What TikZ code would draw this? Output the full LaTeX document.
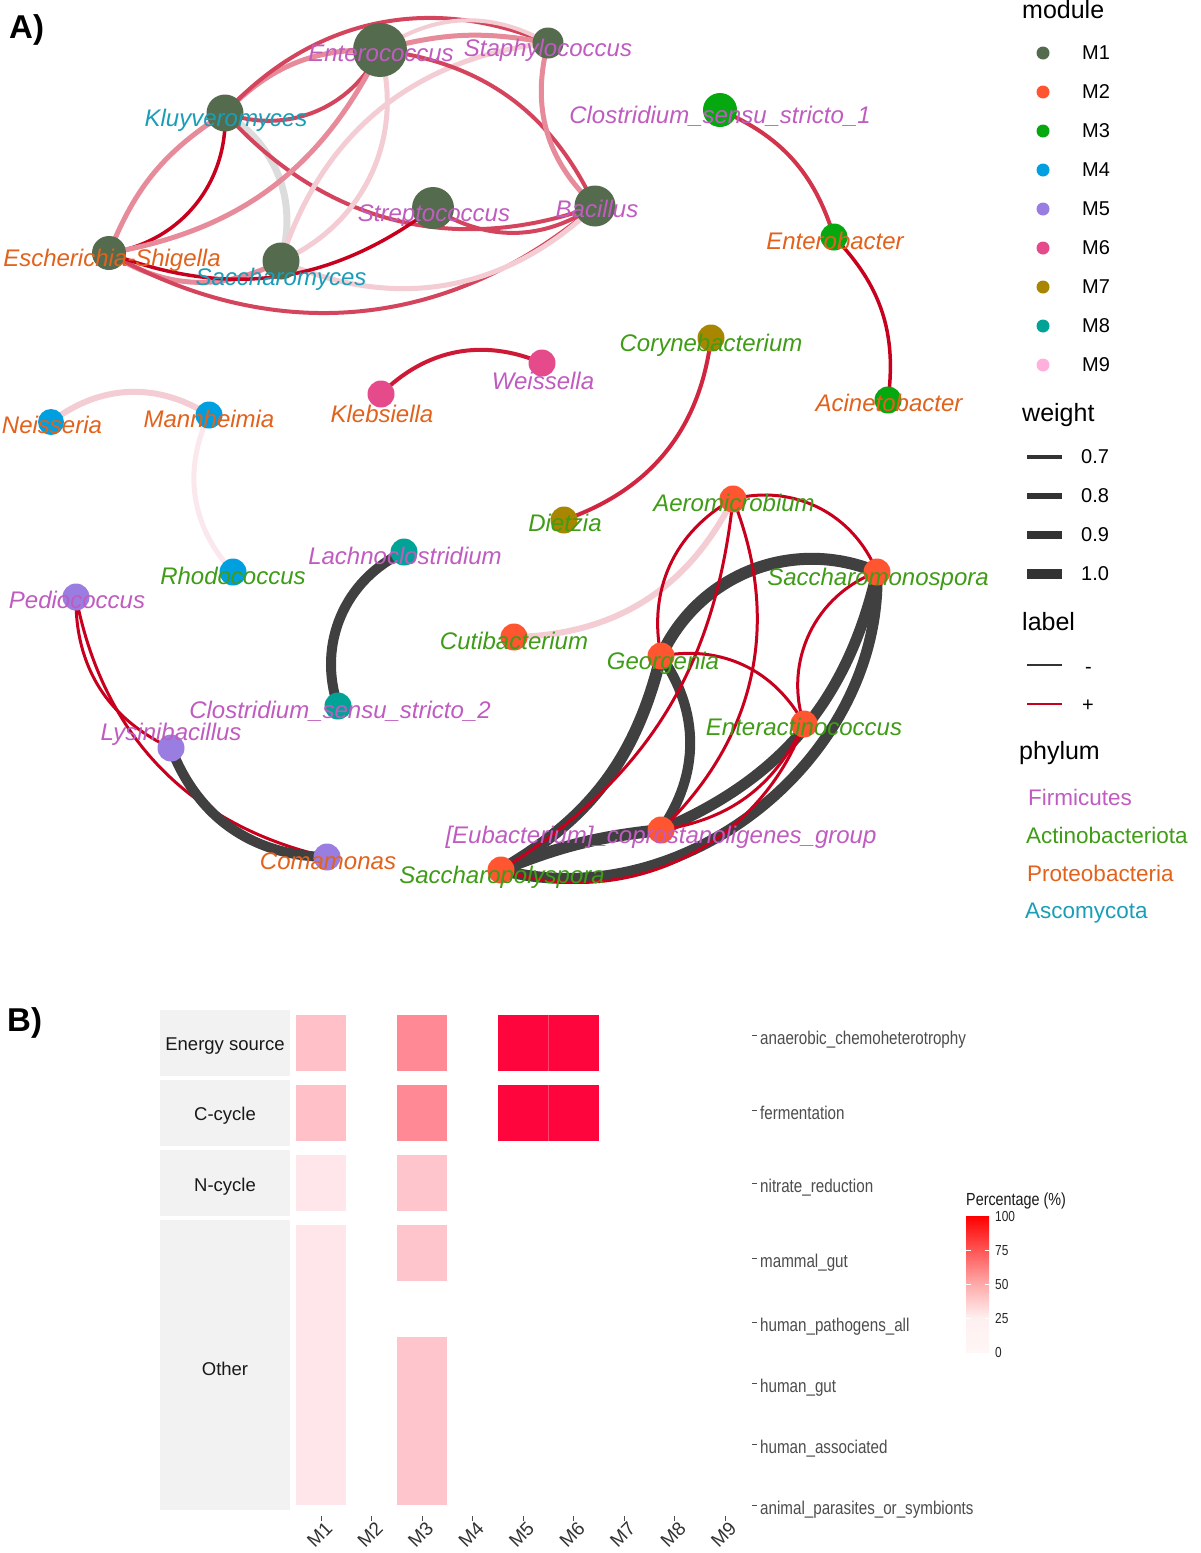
\documentclass[tikz,border=0pt]{standalone}
\usepackage{fontspec}
\setmainfont{Liberation Sans}
\newfontfamily\narrowfont[FakeStretch=0.82]{Liberation Sans}
\pgfdeclarelayer{bglayer}
\pgfdeclarelayer{edges}
\pgfsetlayers{bglayer,edges,main}
\definecolor{Mone}{HTML}{556B4E}
\definecolor{Mtwo}{HTML}{FF5530}
\definecolor{Mthree}{HTML}{06A810}
\definecolor{Mfour}{HTML}{00A0E0}
\definecolor{Mfive}{HTML}{9A7DE0}
\definecolor{Msix}{HTML}{E54A8A}
\definecolor{Mseven}{HTML}{A88600}
\definecolor{Meight}{HTML}{00A395}
\definecolor{Mnine}{HTML}{FFB0DC}
\definecolor{Firm}{HTML}{C05CC0}
\definecolor{Acti}{HTML}{3F9C16}
\definecolor{Prot}{HTML}{E2621C}
\definecolor{Asco}{HTML}{1A9EB8}
\definecolor{RedD}{HTML}{C8001E}
\definecolor{RedM}{HTML}{D4445C}
\definecolor{RedP}{HTML}{E78A99}
\definecolor{RedL}{HTML}{F4CCD3}
\definecolor{RedV}{HTML}{FAE8EC}
\definecolor{GrD}{HTML}{404040}
\definecolor{GrL}{HTML}{DCDCDC}
\definecolor{StripC}{HTML}{F2F2F2}
\definecolor{AxT}{HTML}{4D4D4D}
\definecolor{HmA}{HTML}{FFC0C8}
\definecolor{HmB}{HTML}{FF8A95}
\definecolor{HmC}{HTML}{FF053D}
\definecolor{HmD}{HTML}{FFE6EA}
\definecolor{HmE}{HTML}{FFC5CC}
\definecolor{CbA}{HTML}{FFF6F6}
\definecolor{CbB}{HTML}{FFF0F0}
\definecolor{CbC}{HTML}{FFAAAA}
\definecolor{CbD}{HTML}{FF5555}
\definecolor{CbE}{HTML}{FF0000}
\pgfdeclareverticalshading{pctshade}{100bp}{color(0bp)=(CbA); color(25bp)=(CbA); color(37.5bp)=(CbB); color(50bp)=(CbC); color(62.5bp)=(CbD); color(75bp)=(CbE); color(100bp)=(CbE)}
\tikzset{
  vtx/.style={circle, inner sep=0pt, outer sep=0pt, draw=none},
  lab/.style={anchor=mid, inner sep=0pt, yshift=-5.5, font=\fontsize{24}{28}\selectfont\itshape},
  edred/.style={draw=RedD, line width=3.5},
  ered/.style={draw=RedD, line width=3},
  emed/.style={draw=RedM, line width=4},
  epink/.style={draw=RedP, line width=5},
  elight/.style={draw=RedL, line width=5},
  evlight/.style={draw=RedV, line width=5},
  egray/.style={draw=GrL, line width=7},
  eneg/.style={draw=GrD, line width=11},
  legt/.style={anchor=base west, inner sep=0pt, font=\fontsize{25}{30}\selectfont},
  legl/.style={anchor=mid west, inner sep=0pt, yshift=-4, font=\fontsize{20}{24}\selectfont},
  phyl/.style={anchor=mid west, inner sep=0pt, yshift=-4, font=\fontsize{22.5}{26}\selectfont},
  ylab/.style={anchor=mid west, inner sep=0pt, yshift=-4, text=AxT, font=\narrowfont\fontsize{18.5}{21}\selectfont},
  xlab/.style={anchor=east, rotate=45, inner sep=0pt, text=black!80, font=\fontsize{19}{21}\selectfont},
  striplab/.style={anchor=mid, inner sep=0pt, yshift=-4, text=black!90, font=\fontsize{18.5}{22}\selectfont},
  cblab/.style={anchor=mid west, inner sep=0pt, yshift=-3, text=black!85, font=\narrowfont\fontsize{14.5}{16}\selectfont},
}
\begin{document}
\begin{tikzpicture}[x=1pt,y=1pt]
\useasboundingbox (0,0) rectangle (1200,-1553);
\begin{pgfonlayer}{bglayer}
\fill[white] (0,0) rectangle (1200,-1553);
\end{pgfonlayer}

% ---------- panel letters ----------
\node[anchor=mid west, inner sep=0pt, yshift=-6, font=\fontsize{33}{36}\selectfont\bfseries] (pA) at (9,-30) {A)};
\node[anchor=mid west, inner sep=0pt, yshift=-6, font=\fontsize{33}{36}\selectfont\bfseries] (pB) at (7,-1023) {B)};

% ---------- vertices ----------
\node[vtx, fill=Mone, minimum size=54] (En) at (380,-50) {};
\node[vtx, fill=Mone, minimum size=31] (St) at (548,-43) {};
\node[vtx, fill=Mone, minimum size=37] (Kl) at (225,-113) {};
\node[vtx, fill=Mone, minimum size=42] (Sr) at (433,-208) {};
\node[vtx, fill=Mone, minimum size=41] (Ba) at (595,-206) {};
\node[vtx, fill=Mone, minimum size=34] (Es) at (109,-253) {};
\node[vtx, fill=Mone, minimum size=37] (Sa) at (281,-261) {};
\node[vtx, fill=Mthree, minimum size=34] (C1) at (720,-110) {};
\node[vtx, fill=Mthree, minimum size=27] (Eb) at (834,-237) {};
\node[vtx, fill=Mthree, minimum size=27] (Ac) at (888,-400) {};
\node[vtx, fill=Mseven, minimum size=27] (Co) at (711,-338) {};
\node[vtx, fill=Mseven, minimum size=27] (Di) at (564,-520) {};
\node[vtx, fill=Msix, minimum size=27] (Kb) at (381,-394) {};
\node[vtx, fill=Msix, minimum size=27] (We) at (542,-363) {};
\node[vtx, fill=Mfour, minimum size=26] (Ne) at (51,-422) {};
\node[vtx, fill=Mfour, minimum size=27] (Ma) at (209,-415) {};
\node[vtx, fill=Mfour, minimum size=27] (Rh) at (233,-572) {};
\node[vtx, fill=Meight, minimum size=27] (La) at (404,-552) {};
\node[vtx, fill=Meight, minimum size=27] (C2) at (338,-706) {};
\node[vtx, fill=Mfive, minimum size=27] (Pe) at (76,-597) {};
\node[vtx, fill=Mfive, minimum size=27] (Ly) at (171,-748) {};
\node[vtx, fill=Mfive, minimum size=27] (Cm) at (327,-857) {};
\node[vtx, fill=Mtwo, minimum size=27] (Ae) at (733,-499) {};
\node[vtx, fill=Mtwo, minimum size=27] (Sm) at (877,-572) {};
\node[vtx, fill=Mtwo, minimum size=27] (Cu) at (514,-637) {};
\node[vtx, fill=Mtwo, minimum size=27] (Ge) at (661,-656) {};
\node[vtx, fill=Mtwo, minimum size=27] (Ea) at (804,-724) {};
\node[vtx, fill=Mtwo, minimum size=27] (Eu) at (661,-830) {};
\node[vtx, fill=Mtwo, minimum size=27] (Sp) at (501,-870) {};

% ---------- edges ----------
\begin{pgfonlayer}{edges}
% module 1
\draw[epink] (Es.center) to[bend left=18] (Kl.center);
\draw[edred] (Es.center) to[bend right=42] (Kl.center);
\draw[epink] (Kl.center) to[bend left=24] (En.center);
\draw[emed] (Kl.center) to[bend right=42] (En.center);
\draw[emed] (Kl.center) to[bend left=35] (St.center);
\draw[egray] (Kl.center) to[bend left=37] (Sa.center);
\draw[emed] (Kl.center) to[bend right=34] (Ba.center);
\draw[epink] (Es.center) to[bend right=27] (En.center);
\draw[epink] (Es.center) to[bend right=30] (Sa.center);
\draw[emed] (Es.center) to[bend right=35] (Ba.center);
\draw[elight] (Sa.center) to[bend right=41] (En.center);
\draw[elight] (Sa.center) to[bend left=33] (St.center);
\draw[elight] (Sa.center) to[bend right=34] (Ba.center);
\draw[edred] (Es.center) to[bend right=29] (Sr.center);
\draw[emed] (Sr.center) to[bend right=33] (Ba.center);
\draw[emed] (En.center) to[bend left=29] (Ba.center);
\draw[epink] (St.center) to[bend right=31] (Ba.center);
\draw[epink] (En.center) to[bend left=13] (St.center);
\draw[elight, line width=4] (En.center) to[bend left=32] (St.center);
% small modules
\draw[emed, draw=RedD!80!white] (C1.center) to[bend left=25] (Eb.center);
\draw[edred] (Eb.center) to[bend left=26] (Ac.center);
\draw[emed, draw=RedD!85!white] (Co.center) to[bend left=32] (Di.center);
\draw[emed, draw=RedD!90!white] (Kb.center) to[bend left=34] (We.center);
\draw[elight, line width=6] (Ne.center) to[bend left=35] (Ma.center);
\draw[evlight] (Ma.center) to[bend right=34] (Rh.center);
\draw[eneg, line width=10] (La.center) to[bend right=42] (C2.center);
\draw[ered] (Pe.center) to[bend right=33] (Ly.center);
\draw[ered] (Pe.center) to[bend right=33] (Cm.center);
\draw[eneg, line width=10] (Ly.center) to[bend right=34] (Cm.center);
\draw[elight, line width=6] (Cu.center) to[bend right=31] (Ae.center);
% module 2 negative
\draw[eneg, line width=12] (Ge.center) to[bend left=44] (Sm.center);
\draw[eneg, line width=12] (Sp.center) to[bend right=23] (Ge.center);
\draw[eneg, line width=10] (Ge.center) to[bend left=35] (Eu.center);
\draw[eneg, line width=12] (Sp.center) to[bend left=8] (Eu.center);
\draw[eneg, line width=11] (Eu.center) to[bend right=27] (Sm.center);
\draw[eneg, line width=11] (Sp.center) to[bend right=53] (Sm.center);
% module 2 positive
\draw[ered] (Ae.center) to[bend left=41] (Sm.center);
\draw[ered] (Ae.center) to[bend right=36] (Ge.center);
\draw[ered] (Ae.center) to[bend left=26] (Sp.center);
\draw[ered] (Ae.center) to[bend left=34] (Eu.center);
\draw[ered] (Ge.center) to[bend left=36] (Ea.center);
\draw[ered] (Sm.center) to[bend right=44] (Ea.center);
\draw[ered] (Ea.center) to[bend left=28] (Eu.center);
\draw[ered] (Ea.center) to[bend left=44] (Sp.center);
\end{pgfonlayer}

% ---------- vertex labels ----------
\node[lab, text=Firm] (tEn) at (381,-53) {Enterococcus};
\node[lab, text=Firm] (tSt) at (548,-48) {Staphylococcus};
\node[lab, text=Asco] (tKl) at (226,-118) {Kluyveromyces};
\node[lab, text=Firm] (tSr) at (434,-213) {Streptococcus};
\node[lab, text=Firm] (tBa) at (597,-209) {Bacillus};
\node[lab, text=Prot] (tEs) at (112,-258) {Escherichia-Shigella};
\node[lab, text=Asco] (tSa) at (281,-277) {Saccharomyces};
\node[lab, text=Firm] (tC1) at (720,-115) {Clostridium\_sensu\_stricto\_1};
\node[lab, text=Prot] (tEb) at (835,-241) {Enterobacter};
\node[lab, text=Prot] (tAc) at (889,-403) {Acinetobacter};
\node[lab, text=Acti] (tCo) at (711,-343) {Corynebacterium};
\node[lab, text=Firm] (tWe) at (543,-381) {Weissella};
\node[lab, text=Prot] (tKb) at (382,-414) {Klebsiella};
\node[lab, text=Prot] (tNe) at (52,-425) {Neisseria};
\node[lab, text=Prot] (tMa) at (209,-419) {Mannheimia};
\node[lab, text=Acti] (tRh) at (233,-576) {Rhodococcus};
\node[lab, text=Firm] (tLa) at (405,-556) {Lachnoclostridium};
\node[lab, text=Acti] (tDi) at (565,-523) {Dietzia};
\node[lab, text=Acti] (tAe) at (734,-503) {Aeromicrobium};
\node[lab, text=Acti] (tSm) at (878,-577) {Saccharomonospora};
\node[lab, text=Acti] (tCu) at (514,-641) {Cutibacterium};
\node[lab, text=Acti] (tGe) at (663,-661) {Georgenia};
\node[lab, text=Acti] (tEa) at (804,-727) {Enteractinococcus};
\node[lab, text=Firm] (tEu) at (661,-835) {[Eubacterium]\_coprostanoligenes\_group};
\node[lab, text=Acti] (tSp) at (502,-875) {Saccharopolyspora};
\node[lab, text=Firm] (tPe) at (77,-600) {Pediococcus};
\node[lab, text=Firm] (tLy) at (171,-732) {Lysinibacillus};
\node[lab, text=Firm] (tC2) at (340,-710) {Clostridium\_sensu\_stricto\_2};
\node[lab, text=Prot] (tCm) at (328,-861) {Comamonas};

% ---------- legend ----------
\node[legt] (lgMod) at (1022,-18) {module};
\foreach \i/\c/\yy in {1/Mone/53, 2/Mtwo/92, 3/Mthree/131, 4/Mfour/170, 5/Mfive/209, 6/Msix/248, 7/Mseven/287, 8/Meight/326, 9/Mnine/365}{
  \node[vtx, fill=\c, minimum size=13] (lgD\i) at (1043,-\yy) {};
  \node[legl] (lgM\i) at (1082,-\yy) {M\i};
}
\node[legt] (lgW) at (1022,-421) {weight};
\foreach \w/\t/\yy [count=\k] in {3.5/0.7/457, 5.5/0.8/496, 7.5/0.9/535, 9.5/1.0/574}{
  \draw[line width=\w, draw=black!80] (1027,-\yy) -- (1062,-\yy);
  \node[legl] (lgWt\k) at (1081,-\yy) {\t};
}
\node[legt] (lgL) at (1022,-630) {label};
\draw[line width=2.5, draw=black!80] (1027,-665) -- (1062,-665);
\node[legl] (lgLm) at (1085,-667) {-};
\draw[line width=2.5, draw=RedD] (1027,-704) -- (1062,-704);
\node[legl] (lgLp) at (1082,-705) {+};
\node[legt] (lgP) at (1019,-759) {phylum};
\node[phyl, text=Firm] (lgP1) at (1028,-799) {Firmicutes};
\node[phyl, text=Acti] (lgP2) at (1026,-837) {Actinobacteriota};
\node[phyl, text=Prot] (lgP3) at (1027,-875) {Proteobacteria};
\node[phyl, text=Asco] (lgP4) at (1025,-912) {Ascomycota};

% ---------- panel B: strips ----------
\fill[StripC] (160,-1010) rectangle (290,-1076);
\fill[StripC] (160,-1080) rectangle (290,-1146);
\fill[StripC] (160,-1150) rectangle (290,-1216);
\fill[StripC] (160,-1220) rectangle (290,-1510);
\node[striplab] (sE) at (225,-1044) {Energy source};
\node[striplab] (sC) at (225,-1114) {C-cycle};
\node[striplab] (sN) at (225,-1185) {N-cycle};
\node[striplab] (sO) at (225,-1369) {Other};

% ---------- heatmap tiles ----------
\fill[HmA] (296,-1015) rectangle (346,-1071);
\fill[HmB] (397,-1015) rectangle (447,-1071);
\fill[HmC] (498,-1015) rectangle (599,-1071);
\fill[HmA] (296,-1085) rectangle (346,-1141);
\fill[HmB] (397,-1085) rectangle (447,-1141);
\fill[HmC] (498,-1085) rectangle (599,-1141);
\draw[line width=0.8, draw=HmC!75!white] (548.5,-1015) -- (548.5,-1071);
\draw[line width=0.8, draw=HmC!75!white] (548.5,-1085) -- (548.5,-1141);
\fill[HmD] (296,-1155) rectangle (346,-1211);
\fill[HmE] (397,-1155) rectangle (447,-1211);
\fill[HmD] (296,-1225) rectangle (346,-1505);
\fill[HmE] (397,-1225) rectangle (447,-1281);
\fill[HmE] (397,-1337) rectangle (447,-1505);

% ---------- axis ticks and labels ----------
\foreach \lbl/\yy [count=\k] in {anaerobic\_chemoheterotrophy/1038, fermentation/1113, nitrate\_reduction/1186, mammal\_gut/1261, human\_pathogens\_all/1325, human\_gut/1386, human\_associated/1447, animal\_parasites\_or\_symbionts/1508}{
  \draw[line width=1, draw=AxT] (752,-\yy+3) -- (756.5,-\yy+3);
  \node[ylab] (yl\k) at (760,-\yy) {\lbl};
}
\foreach \k in {1,...,9}{
  \pgfmathsetmacro{\xx}{321+50.5*(\k-1)}
  \draw[line width=1, draw=AxT] (\xx,-1516) -- (\xx,-1521);
  \node[xlab] (xl\k) at (\xx+8,-1525) {M\k};
}

% ---------- colour bar ----------
\node[anchor=base west, inner sep=0pt, text=black!90, font=\narrowfont\fontsize{17.5}{20}\selectfont] (cbT) at (966,-1205) {Percentage (\%)};
\shade[shading=pctshade] (966,-1352) rectangle (989,-1216);
\foreach \v/\yy in {75/1250, 50/1284, 25/1318}{
  \draw[white, line width=0.8] (966,-\yy) -- (970.5,-\yy);
  \draw[white, line width=0.8] (984.5,-\yy) -- (989,-\yy);
}
\foreach \v/\yy [count=\k] in {100/1216, 75/1250, 50/1284, 25/1318, 0/1352}{
  \node[cblab] (cb\k) at (995,-\yy) {\v};
}
\end{tikzpicture}
\end{document}
